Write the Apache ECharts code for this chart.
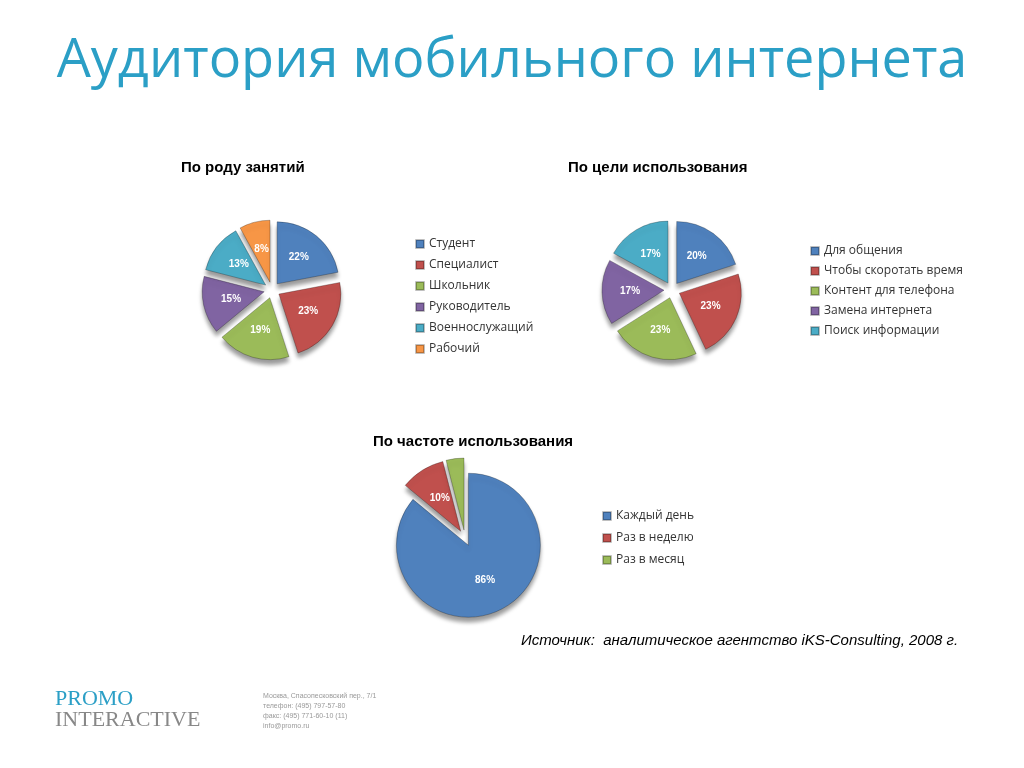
<!DOCTYPE html>
<html><head><meta charset="utf-8">
<script src="https://cdn.jsdelivr.net/npm/echarts@6/dist/echarts.min.js"></script>
<style>html,body{margin:0;background:#fff}#c{width:1024px;height:768px}</style>
</head><body><div id="c"></div>
<script>
var occNames = ['Студент', 'Специалист', 'Школьник', 'Руководитель', 'Военнослужащий', 'Рабочий'];
var occValues = [22, 23, 19, 15, 13, 8];
var goalNames = ['Для общения', 'Чтобы скоротать время', 'Контент для телефона', 'Замена интернета', 'Поиск информации'];
var goalValues = [20, 23, 23, 17, 17];
var freqNames = ['Каждый день', 'Раз в неделю', 'Раз в месяц'];
var freqValues = [86, 10, 4];
var colors = ['#4F81BD', '#C0504D', '#9BBB59', '#8064A2', '#4BACC6', '#F79646'];

var chart = echarts.init(document.getElementById('c'));
var toData = function (names, values) {
    return names.map(function (n, i) {
        return {name: n, value: values[i], selected: true, itemStyle: {color: colors[i]}};
    });
};
var pie = function (names, values, center, radius, offset) {
    return {
        type: 'pie', center: center, radius: radius, startAngle: 90,
        selectedMode: 'multiple', selectedOffset: offset, animation: false,
        data: toData(names, values),
        label: {position: 'inside', formatter: '{c}%', color: '#fff', fontSize: 10, fontWeight: 'bold', fontFamily: 'Arial'},
        labelLine: {show: false},
        itemStyle: {borderColor: 'rgba(0,0,0,0.25)', borderWidth: 1, shadowBlur: 4, shadowOffsetY: 5, shadowColor: 'rgba(0,0,0,0.4)'},
        emphasis: {disabled: true}
    };
};
var legend = function (names, left, top, gap) {
    return {
        data: names, orient: 'vertical', left: left, top: top, itemGap: gap,
        itemWidth: 8, itemHeight: 8, icon: 'rect', selectedMode: false,
        textStyle: {fontSize: 12, color: '#333', fontFamily: 'Open Sans'}
    };
};
var sub = function (text, left, top) {
    return {text: text, left: left, top: top, textStyle: {fontSize: 15, fontWeight: 'bold', color: '#000', fontFamily: 'Arial'}};
};
chart.setOption({
    title: [
        {text: 'Аудитория мобильного интернета', left: 'center', top: 30,
            textStyle: {fontSize: 54, fontWeight: 'normal', color: '#2B9FC6', fontFamily: 'Open Sans'}},
        sub('По роду занятий', 176, 155),
        sub('По цели использования', 563, 155),
        sub('По частоте использования', 368, 429),
        {text: 'Источник:  аналитическое агентство iKS-Consulting, 2008 г.', left: 516, top: 628,
            textStyle: {fontSize: 15, fontStyle: 'italic', fontWeight: 'normal', color: '#000', fontFamily: 'Arial'}},
        {text: 'PROMO', left: 50, top: 683, textStyle: {fontSize: 22, fontWeight: 'normal', color: '#2B9FC6', fontFamily: 'Liberation Serif'}},
        {text: 'INTERACTIVE', left: 50, top: 704, textStyle: {fontSize: 22, fontWeight: 'normal', color: '#888', fontFamily: 'Liberation Serif'}},
        {text: 'Москва, Спасопесковский пер., 7/1\nтелефон: (495) 797-57-80\nфакс: (495) 771-60-10 (11)', left: 258, top: 686,
            textStyle: {fontSize: 7, lineHeight: 10, fontWeight: 'normal', color: '#999', fontFamily: 'Arial'}},
        {text: 'info@promo.ru', left: 258, top: 718, textStyle: {fontSize: 7, fontWeight: 'normal', color: '#999', fontFamily: 'Arial'}}
    ],
    legend: [
        legend(occNames, 410, 233, 9),
        legend(goalNames, 805, 240, 8),
        legend(freqNames, 597, 505, 10)
    ],
    series: [
        pie(occNames, occValues, [272, 290], 62, 8),
        pie(goalNames, goalValues, [672, 290], 62, 8),
        pie(freqNames, freqValues, [465, 538], 72, 8)
    ]
});
</script></body></html>
